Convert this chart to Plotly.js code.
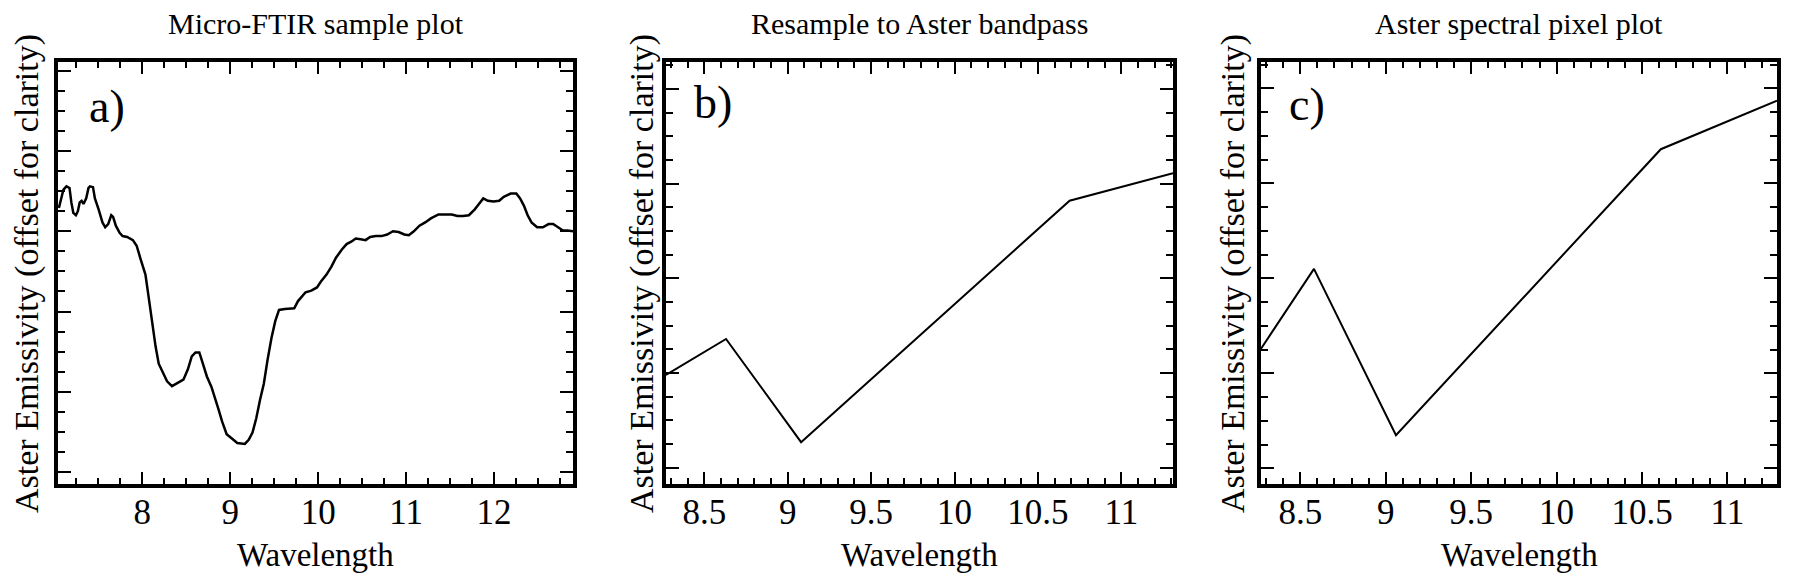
<!DOCTYPE html>
<html>
<head>
<meta charset="utf-8">
<script src="https://cdn.plot.ly/plotly-3.0.1.min.js"></script>
<style>html,body{margin:0;padding:0;background:#fff;}#chart{width:1797px;height:580px;}</style>
</head>
<body>
<div id="chart"></div>
<script>
// ---- Data ----
const titles = ["Micro-FTIR sample plot", "Resample to Aster bandpass", "Aster spectral pixel plot"];
const panelLabels = ["a)", "b)", "c)"];
const xTitle = "Wavelength";
const yTitle = "Aster Emissivity (offset for clarity)";

const ftirWavelength = [7.050, 7.102, 7.136, 7.171, 7.192, 7.214, 7.244, 7.266, 7.287, 7.309, 7.330, 7.361, 7.387, 7.404, 7.438, 7.460, 7.503, 7.546, 7.577, 7.611, 7.646, 7.667, 7.698, 7.741, 7.775, 7.827, 7.892, 7.935, 7.978, 8.009, 8.035, 8.065, 8.099, 8.130, 8.151, 8.186, 8.238, 8.281, 8.337, 8.389, 8.467, 8.518, 8.562, 8.605, 8.648, 8.683, 8.734, 8.786, 8.829, 8.864, 8.907, 8.959, 9.015, 9.080, 9.166, 9.210, 9.253, 9.296, 9.339, 9.382, 9.425, 9.469, 9.512, 9.555, 9.620, 9.728, 9.771, 9.814, 9.857, 9.922, 9.987, 10.030, 10.095, 10.151, 10.203, 10.268, 10.324, 10.376, 10.428, 10.484, 10.540, 10.592, 10.657, 10.721, 10.786, 10.851, 10.916, 10.981, 11.032, 11.089, 11.153, 11.218, 11.283, 11.369, 11.447, 11.521, 11.585, 11.650, 11.715, 11.780, 11.823, 11.879, 11.931, 11.996, 12.060, 12.112, 12.190, 12.255, 12.298, 12.341, 12.384, 12.428, 12.492, 12.557, 12.622, 12.674, 12.730, 12.786, 12.838, 12.903];
const ftirEmissivity = [0.929, 0.952, 0.956, 0.954, 0.936, 0.923, 0.920, 0.925, 0.936, 0.938, 0.934, 0.941, 0.954, 0.956, 0.955, 0.941, 0.927, 0.911, 0.905, 0.909, 0.920, 0.918, 0.907, 0.898, 0.894, 0.893, 0.889, 0.882, 0.866, 0.855, 0.846, 0.823, 0.796, 0.774, 0.756, 0.735, 0.724, 0.713, 0.707, 0.710, 0.715, 0.728, 0.744, 0.749, 0.749, 0.737, 0.719, 0.706, 0.692, 0.679, 0.663, 0.647, 0.642, 0.636, 0.635, 0.640, 0.649, 0.667, 0.690, 0.710, 0.740, 0.767, 0.788, 0.802, 0.803, 0.804, 0.813, 0.819, 0.824, 0.826, 0.830, 0.837, 0.846, 0.856, 0.867, 0.877, 0.884, 0.887, 0.891, 0.890, 0.889, 0.893, 0.894, 0.894, 0.896, 0.900, 0.899, 0.896, 0.895, 0.900, 0.907, 0.911, 0.916, 0.921, 0.921, 0.921, 0.919, 0.919, 0.920, 0.927, 0.933, 0.941, 0.938, 0.937, 0.938, 0.943, 0.947, 0.947, 0.941, 0.932, 0.920, 0.911, 0.905, 0.905, 0.909, 0.909, 0.905, 0.901, 0.901, 0.900];

const resampledWavelength = [8.27, 8.63, 9.08, 10.69, 11.31];
const resampledEmissivity = [0.698, 0.736, 0.627, 0.882, 0.911];

const pixelWavelength = [8.27, 8.58, 9.06, 10.61, 11.29];
const pixelEmissivity = [0.726, 0.810, 0.635, 0.936, 0.987];

const xTicksA = [8, 9, 10, 11, 12];
const xTickTextA = ["8", "9", "10", "11", "12"];
const xTicksBC = [8.5, 9, 9.5, 10, 10.5, 11];
const xTickTextBC = ["8.5", "9", "9.5", "10", "10.5", "11"];

// ---- Layout helpers ----
const W = 1797, H = 580;
const FONT = 'Liberation Serif';
const frames = [[58, 573], [666, 1173], [1261, 1777]];
const frameTop = 62, frameBottom = 484;
const yDom = [1 - frameBottom / H, 1 - frameTop / H];

function xaxis(i, range, tv, tt, minorD) {
  return {
    domain: [frames[i][0] / W, frames[i][1] / W],
    range: range, anchor: i === 0 ? 'y' : 'y' + (i + 1),
    showline: true, linewidth: 4, linecolor: '#000', mirror: 'ticks',
    ticks: 'inside', ticklen: 12, tickwidth: 2, tickcolor: '#000',
    tickmode: 'array', tickvals: tv, ticktext: tt,
    minor: {dtick: minorD, tick0: 0, ticks: 'inside', ticklen: 6, tickwidth: 2, tickcolor: '#000'},
    showgrid: false, zeroline: false,
    tickfont: {family: FONT, size: 35, color: '#000'},
    ticklabelstandoff: -6,
    fixedrange: true
  };
}
function yaxis(i, range) {
  return {
    domain: yDom, range: range, anchor: i === 0 ? 'x' : 'x' + (i + 1),
    showline: true, linewidth: 4, linecolor: '#000', mirror: 'ticks',
    ticks: 'inside', ticklen: 13, tickwidth: 2, tickcolor: '#000',
    dtick: 0.1, tick0: 0,
    minor: {dtick: 0.025, tick0: 0, ticks: 'inside', ticklen: 7, tickwidth: 2, tickcolor: '#000'},
    showticklabels: false, showgrid: false, zeroline: false, fixedrange: true
  };
}

const traces = [
  {x: ftirWavelength, y: ftirEmissivity, xaxis: 'x', yaxis: 'y', mode: 'lines', line: {color: '#000', width: 2.5}, hoverinfo: 'skip'},
  {x: resampledWavelength, y: resampledEmissivity, xaxis: 'x2', yaxis: 'y2', mode: 'lines', line: {color: '#000', width: 2}, hoverinfo: 'skip'},
  {x: pixelWavelength, y: pixelEmissivity, xaxis: 'x3', yaxis: 'y3', mode: 'lines', line: {color: '#000', width: 2}, hoverinfo: 'skip'}
];

const annotations = [];
const yTitleX = [27, 642, 1233];
const labelPos = [[87, 106], [692, 102], [1287, 104]];
for (let i = 0; i < 3; i++) {
  const cx = (frames[i][0] + frames[i][1]) / 2;
  annotations.push({text: titles[i], xref: 'paper', yref: 'paper', x: cx / W, y: 1 - 23 / H, xanchor: 'center', yanchor: 'middle', showarrow: false, font: {family: FONT, size: 30, color: '#000'}});
  annotations.push({text: xTitle, xref: 'paper', yref: 'paper', x: cx / W, y: 1 - 555 / H, xanchor: 'center', yanchor: 'middle', showarrow: false, font: {family: FONT, size: 33, color: '#000'}});
  annotations.push({text: yTitle, xref: 'paper', yref: 'paper', x: yTitleX[i] / W, y: 1 - 274 / H, xanchor: 'center', yanchor: 'middle', textangle: -90, showarrow: false, font: {family: FONT, size: 34, color: '#000'}});
  annotations.push({text: panelLabels[i], xref: 'paper', yref: 'paper', x: labelPos[i][0] / W, y: 1 - labelPos[i][1] / H, xanchor: 'left', yanchor: 'middle', showarrow: false, font: {family: FONT, size: 46, color: '#000'}});
}

const layout = {
  width: W, height: H, margin: {l: 0, r: 0, t: 0, b: 0},
  paper_bgcolor: '#fff', plot_bgcolor: '#fff', showlegend: false,
  font: {family: FONT, color: '#000'},
  xaxis: xaxis(0, [7.04, 12.9], xTicksA, xTickTextA, 0.25),
  xaxis2: xaxis(1, [8.27, 11.31], xTicksBC, xTickTextBC, 0.1),
  xaxis3: xaxis(2, [8.27, 11.29], xTicksBC, xTickTextBC, 0.1),
  yaxis: yaxis(0, [0.585, 1.111]),
  yaxis2: yaxis(1, [0.5828, 1.0286]),
  yaxis3: yaxis(2, [0.5836, 1.0278]),
  annotations: annotations
};

Plotly.newPlot('chart', traces, layout, {displayModeBar: false, staticPlot: true});
</script>
</body>
</html>
